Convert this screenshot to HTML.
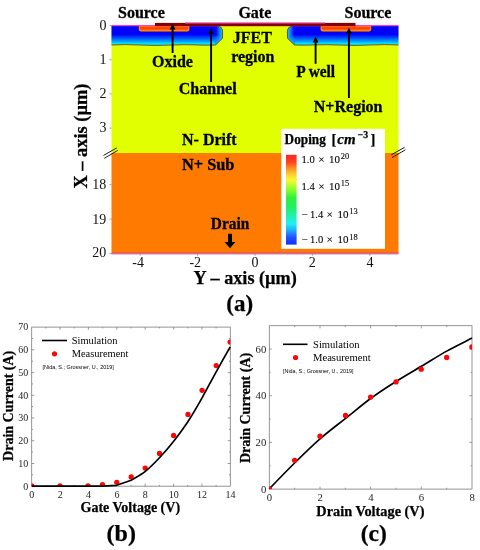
<!DOCTYPE html>
<html lang="en">
<head>
<meta charset="utf-8">
<title>SiC MOSFET structure and I-V characteristics</title>
<style>
html,body{margin:0;padding:0;background:#fff;}
body{width:480px;height:550px;overflow:hidden;}
svg{display:block;}
text{font-family:"Liberation Serif","DejaVu Serif",serif;fill:#000;}
.b{font-weight:bold;stroke:#000;stroke-width:0.25px;}
.l16{font-size:16px;font-weight:bold;stroke:#000;stroke-width:0.3px;}
.t14{font-size:14px;fill:#111;}
.tk{font-size:10px;fill:#222;}
.ss{font-family:"Liberation Sans","DejaVu Sans",sans-serif;}
</style>
</head>
<body>
<svg width="480" height="550" viewBox="0 0 480 550">
<defs>
  <linearGradient id="cb" x1="0" y1="0" x2="0" y2="1">
    <stop offset="0" stop-color="#ff2626"/>
    <stop offset="0.08" stop-color="#ff4020"/>
    <stop offset="0.15" stop-color="#ff9020"/>
    <stop offset="0.22" stop-color="#ffd030"/>
    <stop offset="0.28" stop-color="#f8f830"/>
    <stop offset="0.38" stop-color="#90ff30"/>
    <stop offset="0.48" stop-color="#30f040"/>
    <stop offset="0.58" stop-color="#20f060"/>
    <stop offset="0.68" stop-color="#20f0b0"/>
    <stop offset="0.77" stop-color="#20f0f0"/>
    <stop offset="0.85" stop-color="#20a0ff"/>
    <stop offset="0.92" stop-color="#2050ff"/>
    <stop offset="1" stop-color="#1030ff"/>
  </linearGradient>
  <linearGradient id="pg" gradientUnits="userSpaceOnUse" x1="0" y1="26" x2="0" y2="45.4">
    <stop offset="0" stop-color="#0808f8"/>
    <stop offset="0.43" stop-color="#0000f8"/>
    <stop offset="0.66" stop-color="#0060ff"/>
    <stop offset="0.79" stop-color="#00a0ff"/>
    <stop offset="0.90" stop-color="#00e0ff"/>
    <stop offset="1" stop-color="#00e8ff"/>
  </linearGradient>
  <filter id="bl1" x="-5%" y="-30%" width="110%" height="160%"><feGaussianBlur stdDeviation="1.3"/></filter>
  <filter id="bl2" x="-5%" y="-30%" width="110%" height="160%"><feGaussianBlur stdDeviation="1.0"/></filter>
  <path id="pwL" d="M111.5 26 L217.5 26 Q222.2 26.4 222.6 31.5 L222.5 38.2 L215.5 45 Q205 45.4 195 44.9 T170 45.1 T140 45 T111.5 45 Z"/>
  <path id="pwR" d="M398.5 26 L292.5 26 Q287.8 26.4 287.4 31.5 L287.5 38.2 L294.5 45 Q305 45.4 315 44.9 T340 45.1 T370 45 T398.5 45 Z"/>
  <clipPath id="cpL"><use href="#pwL"/></clipPath>
  <clipPath id="cpR"><use href="#pwR"/></clipPath>
  <clipPath id="clB"><rect x="31.7" y="327.1" width="198.6" height="159.1"/></clipPath>
  <clipPath id="clC"><rect x="269.3" y="325.7" width="202.7" height="163.4"/></clipPath>
</defs>

<!-- ================= (a) device cross-section ================= -->
<g id="figA">
  <!-- drift + substrate -->
  <rect x="111.5" y="25.5" width="287" height="127.5" fill="#e1ff00"/>
  <rect x="111.5" y="153" width="287" height="100.5" fill="#ff7a00"/>
  <!-- P wells -->
  <use href="#pwL" fill="url(#pg)"/>
  <g clip-path="url(#cpL)">
    <path d="M219.5 24 Q224 26 223.3 31 V38.6 L216 46" fill="none" stroke="#1878ff" stroke-width="11" filter="url(#bl1)"/>
    <path d="M196 26.6 H224" fill="none" stroke="#2e74ff" stroke-width="5" filter="url(#bl2)"/>
    <path d="M219.5 24 Q224 26 223.3 31 V38.6 L216 46" fill="none" stroke="#00dcff" stroke-width="4.2" filter="url(#bl2)"/>
  </g>
  <use href="#pwR" fill="url(#pg)"/>
  <g clip-path="url(#cpR)">
    <path d="M290.5 24 Q286 26 286.7 31 V38.6 L294 46" fill="none" stroke="#1878ff" stroke-width="11" filter="url(#bl1)"/>
    <path d="M314 26.6 H286" fill="none" stroke="#2e74ff" stroke-width="5" filter="url(#bl2)"/>
    <path d="M290.5 24 Q286 26 286.7 31 V38.6 L294 46" fill="none" stroke="#00dcff" stroke-width="4.2" filter="url(#bl2)"/>
  </g>
  <g fill="none" stroke="#7e4a00" stroke-width="0.9">
    <path d="M217.5 26.3 Q222.2 26.4 222.6 31.5 L222.5 38.2 L215.5 45 Q205 45.4 195 44.9 T170 45.1 T140 45 T111.5 45"/>
    <path d="M292.5 26.3 Q287.8 26.4 287.4 31.5 L287.5 38.2 L294.5 45 Q305 45.4 315 44.9 T340 45.1 T370 45 T398.5 45"/>
  </g>
  <!-- N+ regions -->
  <path d="M138.8 26 H189.4 V29.5 Q189.4 31.6 187.2 31.6 H141 Q138.8 31.6 138.8 29.5 Z" fill="#ff8a00"/>
  <path d="M139.9 26.7 H188.3 V28.5 Q188.3 29.7 187 29.7 H141.2 Q139.9 29.7 139.9 28.5 Z" fill="#ff4600"/>
  <path d="M320.6 26 H371.2 V29.5 Q371.2 31.6 369 31.6 H322.8 Q320.6 31.6 320.6 29.5 Z" fill="#ff8a00"/>
  <path d="M321.7 26.7 H370.1 V28.5 Q370.1 29.7 368.8 29.7 H323 Q321.7 29.7 321.7 28.5 Z" fill="#ff4600"/>
  <!-- surface lines -->
  <rect x="111.5" y="25" width="287" height="1.2" fill="#ff3ad0"/>
  <rect x="155" y="22.9" width="200.5" height="3.2" fill="#860008"/>
  <rect x="185" y="22.5" width="140" height="1.2" fill="#de3a98"/>
  <!-- bottom line -->
  <rect x="111.5" y="252.7" width="287" height="0.9" fill="#e8305a"/><rect x="111.5" y="253.5" width="287" height="0.9" fill="#b86ad6"/>

  <!-- axis break marks -->
  <g stroke="#1a1a1a" stroke-width="1" fill="none">
    <path d="M103.6 155.4 L116.8 147.9 M104.3 158.3 L117.7 150.4"/>
    <path d="M391.3 154.8 L404.6 147.3 M392.1 157.5 L405.4 149.8"/>
  </g>
  <!-- small ticks -->
  <g stroke="#777" stroke-width="0.7">
    <path d="M109.5 25.5H111.5 M109.5 59.7H111.5 M109.5 93.9H111.5 M109.5 128.1H111.5 M109.5 184.7H111.5 M109.5 219.1H111.5 M109.5 253.3H111.5"/>
    <path d="M140.2 254V255.6 M197.6 254V255.6 M255 254V255.6 M312.4 254V255.6 M369.8 254V255.6"/>
  </g>

  <!-- arrows -->
  <g stroke="#000" stroke-width="1.9" fill="none">
    <path d="M172.6 53 V27.5"/>
    <path d="M211.1 82 V32"/>
    <path d="M315.6 63.8 V40.5"/>
    <path d="M348.9 98 V31.5"/>
  </g>
  <g fill="#000">
    <path d="M172.6 23.6 L175.5 29.4 H169.7 Z"/>
    <path d="M211.1 28 L214 34 H208.2 Z"/>
    <path d="M315.6 36.5 L318.5 42.4 H312.7 Z"/>
    <path d="M348.9 27.6 L351.8 33.4 H346 Z"/>
    <path d="M228 233.7 H232 V242 H235.4 L230 248.2 L224.6 242 H228 Z"/>
  </g>

  <!-- region labels -->
  <text class="l16" x="118" y="18.2">Source</text>
  <text class="l16" x="238.4" y="18.3">Gate</text>
  <text class="l16" x="344.5" y="17.8">Source</text>
  <text class="l16" x="152" y="67">Oxide</text>
  <text class="l16" x="178.8" y="94.2">Channel</text>
  <text class="l16" x="232.8" y="42.7">JFET</text>
  <text class="l16" x="231.2" y="61.9">region</text>
  <text class="l16" x="296.3" y="76.6" textLength="38.8" lengthAdjust="spacingAndGlyphs">P well</text>
  <text class="l16" x="313.8" y="111.6">N+Region</text>
  <text class="l16" x="182" y="145">N- Drift</text>
  <text class="l16" x="182" y="170.2" textLength="52.4" lengthAdjust="spacingAndGlyphs">N+ Sub</text>
  <text class="l16" x="210.8" y="228.7" textLength="38.4" lengthAdjust="spacingAndGlyphs">Drain</text>

  <!-- y tick labels -->
  <g class="t14" text-anchor="end">
    <text class="t14" x="106.6" y="29.7">0</text>
    <text class="t14" x="106.6" y="63.9">1</text>
    <text class="t14" x="106.6" y="98.1">2</text>
    <text class="t14" x="106.6" y="132.2">3</text>
    <text class="t14" x="106.3" y="189.3">18</text>
    <text class="t14" x="106.3" y="224.2">19</text>
    <text class="t14" x="106.3" y="256.6">20</text>
  </g>
  <!-- x tick labels -->
  <g text-anchor="middle">
    <text class="t14" x="138.1" y="266.8">-4</text>
    <text class="t14" x="195.3" y="266.8">-2</text>
    <text class="t14" x="255.1" y="266.8">0</text>
    <text class="t14" x="312.2" y="266.8">2</text>
    <text class="t14" x="369.9" y="266.8">4</text>
  </g>
  <!-- axis titles -->
  <text class="b" font-size="18.2" x="193.5" y="284.2">Y – axis (µm)</text>
  <text class="b" font-size="18.4" transform="translate(86.6 188.6) rotate(-90)">X – axis (µm)</text>
  <text class="b" font-size="23" x="226.3" y="310.9">(a)</text>

  <!-- doping legend -->
  <rect x="281.3" y="128.8" width="103.7" height="120" fill="#fff"/>
  <text class="b" font-size="14.5" x="284.6" y="143.8" textLength="41.2" lengthAdjust="spacingAndGlyphs">Doping</text>
  <text class="b" font-size="14.5" x="331.6" y="143.8">[</text>
  <text class="b" font-style="italic" font-size="15" x="337.3" y="143.8" textLength="18.3" lengthAdjust="spacingAndGlyphs">cm</text>
  <text class="b" font-size="9.5" x="357.6" y="138.2" textLength="10.6" lengthAdjust="spacingAndGlyphs">−3</text>
  <text class="b" font-size="14.5" x="370.6" y="143.8">]</text>
  <rect x="286" y="154.8" width="10.6" height="89.8" fill="url(#cb)"/>
  <text font-size="11.3" fill="#151515" stroke="#151515" stroke-width="0.12" x="301.6" y="162.8" textLength="13.2" lengthAdjust="spacingAndGlyphs">1.0</text><text font-size="11.3" fill="#151515" stroke="#151515" stroke-width="0.12" x="318.20000000000005" y="162.8">×</text><text font-size="11.3" fill="#151515" stroke="#151515" stroke-width="0.12" x="329.0" y="162.8" textLength="11" lengthAdjust="spacingAndGlyphs">10</text><text font-size="8.2" fill="#151515" stroke="#151515" stroke-width="0.12" x="340.8" y="159.3" textLength="8.4" lengthAdjust="spacingAndGlyphs">20</text>
  <text font-size="11.3" fill="#151515" stroke="#151515" stroke-width="0.12" x="301.6" y="189.8" textLength="13.2" lengthAdjust="spacingAndGlyphs">1.4</text><text font-size="11.3" fill="#151515" stroke="#151515" stroke-width="0.12" x="318.20000000000005" y="189.8">×</text><text font-size="11.3" fill="#151515" stroke="#151515" stroke-width="0.12" x="329.0" y="189.8" textLength="11" lengthAdjust="spacingAndGlyphs">10</text><text font-size="8.2" fill="#151515" stroke="#151515" stroke-width="0.12" x="340.8" y="186.3" textLength="8.4" lengthAdjust="spacingAndGlyphs">15</text>
  <text font-size="11.3" fill="#151515" stroke="#151515" stroke-width="0.12" x="301.6" y="217.5">−</text><text font-size="11.3" fill="#151515" stroke="#151515" stroke-width="0.12" x="310.0" y="217.5" textLength="13.2" lengthAdjust="spacingAndGlyphs">1.4</text><text font-size="11.3" fill="#151515" stroke="#151515" stroke-width="0.12" x="326.6" y="217.5">×</text><text font-size="11.3" fill="#151515" stroke="#151515" stroke-width="0.12" x="337.4" y="217.5" textLength="11" lengthAdjust="spacingAndGlyphs">10</text><text font-size="8.2" fill="#151515" stroke="#151515" stroke-width="0.12" x="349.2" y="214.0" textLength="8.4" lengthAdjust="spacingAndGlyphs">13</text>
  <text font-size="11.3" fill="#151515" stroke="#151515" stroke-width="0.12" x="301.6" y="243.4">−</text><text font-size="11.3" fill="#151515" stroke="#151515" stroke-width="0.12" x="310.0" y="243.4" textLength="13.2" lengthAdjust="spacingAndGlyphs">1.0</text><text font-size="11.3" fill="#151515" stroke="#151515" stroke-width="0.12" x="326.6" y="243.4">×</text><text font-size="11.3" fill="#151515" stroke="#151515" stroke-width="0.12" x="337.4" y="243.4" textLength="11" lengthAdjust="spacingAndGlyphs">10</text><text font-size="8.2" fill="#151515" stroke="#151515" stroke-width="0.12" x="349.2" y="239.9" textLength="8.4" lengthAdjust="spacingAndGlyphs">18</text>
</g>

<!-- ================= (b) transfer curve ================= -->
<g id="figB">
<rect x="31.7" y="327.1" width="198.6" height="159.1" fill="#fff" stroke="#7a7a7a" stroke-width="0.8"/>
<path d="M45.9 486.2v-1.3M45.9 327.1v1.3M60.1 486.2v-2.6M60.1 327.1v2.6M74.3 486.2v-1.3M74.3 327.1v1.3M88.4 486.2v-2.6M88.4 327.1v2.6M102.6 486.2v-1.3M102.6 327.1v1.3M116.8 486.2v-2.6M116.8 327.1v2.6M131.0 486.2v-1.3M131.0 327.1v1.3M145.2 486.2v-2.6M145.2 327.1v2.6M159.4 486.2v-1.3M159.4 327.1v1.3M173.6 486.2v-2.6M173.6 327.1v2.6M187.7 486.2v-1.3M187.7 327.1v1.3M201.9 486.2v-2.6M201.9 327.1v2.6M216.1 486.2v-1.3M216.1 327.1v1.3M31.7 474.8h1.3M230.3 474.8h-1.3M31.7 463.5h2.6M230.3 463.5h-2.6M31.7 452.1h1.3M230.3 452.1h-1.3M31.7 440.7h2.6M230.3 440.7h-2.6M31.7 429.4h1.3M230.3 429.4h-1.3M31.7 418.0h2.6M230.3 418.0h-2.6M31.7 406.6h1.3M230.3 406.6h-1.3M31.7 395.3h2.6M230.3 395.3h-2.6M31.7 383.9h1.3M230.3 383.9h-1.3M31.7 372.6h2.6M230.3 372.6h-2.6M31.7 361.2h1.3M230.3 361.2h-1.3M31.7 349.8h2.6M230.3 349.8h-2.6M31.7 338.5h1.3M230.3 338.5h-1.3" stroke="#7a7a7a" stroke-width="0.75" fill="none"/>
<g fill="#ff0505" clip-path="url(#clB)"><circle cx="31.75" cy="485.8" r="2.65"/><circle cx="60" cy="485.8" r="2.65"/><circle cx="88" cy="485.8" r="2.65"/><circle cx="102.5" cy="484.6" r="2.65"/><circle cx="116.8" cy="482.3" r="2.65"/><circle cx="131.2" cy="476.9" r="2.65"/><circle cx="145.2" cy="468.1" r="2.65"/><circle cx="159.5" cy="453.5" r="2.65"/><circle cx="173.6" cy="435.5" r="2.65"/><circle cx="188" cy="414.4" r="2.65"/><circle cx="202.1" cy="390.3" r="2.65"/><circle cx="216.2" cy="365.6" r="2.65"/><circle cx="230.1" cy="342.1" r="2.65"/></g>
<path d="M31.75 486.1 L102.5 486.1 L116.7 485.3 L131.2 480.3 L131.2 480.3 C133.5 478.8 140.6 475.2 145.3 471.4 C150.1 467.6 155.0 462.5 159.7 457.5 C164.4 452.5 169.0 447.2 173.7 441.2 C178.4 435.2 183.3 428.7 188.0 421.5 C192.7 414.3 197.4 406.1 202.1 397.8 C206.8 389.5 211.5 380.3 216.2 371.8 C220.9 363.3 227.9 351.0 230.2 346.9" stroke="#000" stroke-width="1.7" fill="none" stroke-linejoin="round"/>
<path d="M42 340.5H67" stroke="#000" stroke-width="1.6"/>
<circle cx="54.5" cy="353.8" r="2.6" fill="#ff0505"/>
<text x="71.7" y="344" font-size="10.6" fill="#222" textLength="45.8" lengthAdjust="spacingAndGlyphs">Simulation</text>
<text x="71.7" y="357.1" font-size="10.6" fill="#222" textLength="56.7" lengthAdjust="spacingAndGlyphs">Measurement</text>
<text class="ss" x="42.5" y="369.4" font-size="5.6" fill="#4a4a4a" textLength="71.3" lengthAdjust="spacingAndGlyphs">[Nida, S.; Grossner, U., 2019]</text>
<text class="tk" text-anchor="end" x="28.3" y="489.5">0</text>
<text class="tk" text-anchor="end" x="28.3" y="466.8">10</text>
<text class="tk" text-anchor="end" x="28.3" y="444.0">20</text>
<text class="tk" text-anchor="end" x="28.3" y="421.3">30</text>
<text class="tk" text-anchor="end" x="28.3" y="398.6">40</text>
<text class="tk" text-anchor="end" x="28.3" y="375.9">50</text>
<text class="tk" text-anchor="end" x="28.3" y="353.1">60</text>
<text class="tk" text-anchor="end" x="28.3" y="330.4">70</text>
<text class="tk" text-anchor="middle" x="31.8" y="498">0</text>
<text class="tk" text-anchor="middle" x="60.2" y="498">2</text>
<text class="tk" text-anchor="middle" x="88.5" y="498">4</text>
<text class="tk" text-anchor="middle" x="116.9" y="498">6</text>
<text class="tk" text-anchor="middle" x="145.3" y="498">8</text>
<text class="tk" text-anchor="middle" x="173.7" y="498">10</text>
<text class="tk" text-anchor="middle" x="202.0" y="498">12</text>
<text class="tk" text-anchor="middle" x="230.4" y="498">14</text>
<text class="b" font-size="14" x="80.5" y="511.6">Gate Voltage (V)</text>
<text class="b" font-size="14" transform="translate(12.7 460.9) rotate(-90)">Drain Current (A)</text>
<text class="b" font-size="24" x="106.6" y="540.6">(b)</text>
</g>

<!-- ================= (c) output curve ================= -->
<g id="figC">
<rect x="269.3" y="325.7" width="202.7" height="163.4" fill="#fff" stroke="#7a7a7a" stroke-width="0.8"/>
<path d="M294.6 489.1v-1.3M294.6 325.7v1.3M320.0 489.1v-2.6M320.0 325.7v2.6M345.3 489.1v-1.3M345.3 325.7v1.3M370.6 489.1v-2.6M370.6 325.7v2.6M396.0 489.1v-1.3M396.0 325.7v1.3M421.3 489.1v-2.6M421.3 325.7v2.6M446.7 489.1v-1.3M446.7 325.7v1.3M269.3 465.8h1.3M472.0 465.8h-1.3M269.3 442.4h2.6M472.0 442.4h-2.6M269.3 419.1h1.3M472.0 419.1h-1.3M269.3 395.7h2.6M472.0 395.7h-2.6M269.3 372.4h1.3M472.0 372.4h-1.3M269.3 349.0h2.6M472.0 349.0h-2.6" stroke="#7a7a7a" stroke-width="0.75" fill="none"/>
<path d="M269.3 488.9 C273.5 484.5 286.2 471.3 294.6 463.0 C303.1 454.6 311.5 446.3 320.0 438.9 C328.4 431.5 336.9 425.3 345.3 418.6 C353.8 411.9 362.2 404.7 370.6 398.5 C379.1 392.3 387.5 386.9 396.0 381.5 C404.4 376.1 412.9 371.4 421.3 366.3 C429.8 361.3 438.2 355.9 446.7 351.1 C455.1 346.4 467.8 340.3 472.0 338.1" stroke="#000" stroke-width="1.65" fill="none"/>
<g fill="#ff0505" clip-path="url(#clC)"><circle cx="269.5" cy="489" r="2.65"/><circle cx="294.6" cy="460.3" r="2.65"/><circle cx="320" cy="436.2" r="2.65"/><circle cx="345.5" cy="415.5" r="2.65"/><circle cx="370.6" cy="397.1" r="2.65"/><circle cx="396" cy="381.9" r="2.65"/><circle cx="421.2" cy="369.2" r="2.65"/><circle cx="446.7" cy="357.5" r="2.65"/><circle cx="471.9" cy="347" r="2.65"/></g>
<path d="M283 344.3H307.5" stroke="#000" stroke-width="1.6"/>
<circle cx="295.5" cy="357.5" r="2.6" fill="#ff0505"/>
<text x="313" y="348.1" font-size="10.9" fill="#222" textLength="46.5" lengthAdjust="spacingAndGlyphs">Simulation</text>
<text x="313" y="361.2" font-size="10.9" fill="#222" textLength="57.8" lengthAdjust="spacingAndGlyphs">Measurement</text>
<text class="ss" x="283" y="372.6" font-size="5.6" fill="#4a4a4a" textLength="70.5" lengthAdjust="spacingAndGlyphs">[Nida, S.; Grossner, U., 2019]</text>
<text class="tk" style="font-size:10.7px" text-anchor="end" x="266.3" y="492.6">0</text>
<text class="tk" style="font-size:10.7px" text-anchor="end" x="266.3" y="445.9">20</text>
<text class="tk" style="font-size:10.7px" text-anchor="end" x="266.3" y="399.2">40</text>
<text class="tk" style="font-size:10.7px" text-anchor="end" x="266.3" y="352.5">60</text>
<text class="tk" style="font-size:10.7px" text-anchor="middle" x="269.5" y="500.5">0</text>
<text class="tk" style="font-size:10.7px" text-anchor="middle" x="320.2" y="500.5">2</text>
<text class="tk" style="font-size:10.7px" text-anchor="middle" x="370.8" y="500.5">4</text>
<text class="tk" style="font-size:10.7px" text-anchor="middle" x="421.5" y="500.5">6</text>
<text class="tk" style="font-size:10.7px" text-anchor="middle" x="472.2" y="500.5">8</text>
<text class="b" font-size="14.2" x="316.3" y="516.3" textLength="108.2" lengthAdjust="spacingAndGlyphs">Drain Voltage (V)</text>
<text class="b" font-size="14" transform="translate(249.7 463) rotate(-90)">Drain Current (A)</text>
<text class="b" font-size="23.5" x="360.8" y="540.9">(c)</text>
</g>
</svg>
</body>
</html>
